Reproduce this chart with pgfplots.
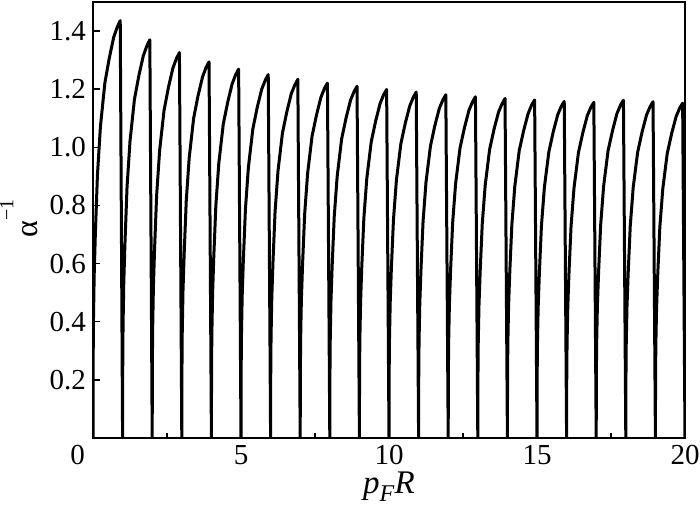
\documentclass[border=0pt]{standalone}
\usepackage{pgfplots}
\pgfplotsset{compat=1.18}
\usepackage{fontspec}
\setmainfont{Liberation Serif}
\begin{document}
\begin{tikzpicture}
\begin{axis}[
  scale only axis,
  width=296pt, height=218pt,
  xmin=0, xmax=20, ymin=0, ymax=1.5,
  xtick={0,5,10,15,20},
  xticklabels={\makebox[0pt][r]{0\hspace{4pt}},5,10,15,20},
  minor x tick num=1,
  ytick={0.2,0.4,0.6,0.8,1.0,1.2,1.4},
  yticklabels={0.2,0.4,0.6,0.8,1.0,1.2,1.4},
  tick align=inside,
  xtick pos=bottom, ytick pos=left,
  major tick length=3.5pt, minor tick length=2.5pt,
  tick style={black, line width=0.75pt},
  axis line style={line width=0.75pt},
  /pgf/number format/assume math mode=true,
  tick label style={font=\fontsize{14.5}{17}\selectfont},
  xlabel style={font=\fontsize{16.5}{19}\selectfont},
  ylabel style={font=\fontsize{16}{19}\selectfont},
  xlabel={\textit{p}\raisebox{-0.25em}{\fontsize{12}{14}\selectfont\textit{F}}\textit{R}},
  ylabel={α\raisebox{0.75em}{\fontsize{10}{12}\selectfont −1}},
  xlabel style={at={(axis description cs:0.5,0)}, anchor=center, yshift=-24.5pt},
  ylabel style={at={(axis description cs:-0.125,0.503)}, anchor=center},
]
\addplot[black, line width=1.5pt, line join=round] table {
x y
0 0
0.005 0.258
0.015 0.402
0.04 0.560
0.08 0.704
0.15 0.905
0.25 1.070
0.4 1.221
0.55 1.307
0.7 1.379
0.82 1.414
0.92 1.436
1 0
1.005 0.247
1.015 0.384
1.04 0.534
1.08 0.671
1.15 0.863
1.25 1.021
1.4 1.165
1.55 1.247
1.7 1.315
1.82 1.349
1.92 1.370
2 0
2.005 0.239
2.015 0.371
2.04 0.517
2.08 0.650
2.15 0.835
2.25 0.988
2.4 1.127
2.55 1.207
2.7 1.273
2.82 1.306
2.92 1.326
3 0
3.005 0.233
3.015 0.362
3.04 0.505
3.08 0.634
3.15 0.815
3.25 0.964
3.4 1.100
3.55 1.178
3.7 1.242
3.82 1.275
3.92 1.294
4 0
4.005 0.228
4.015 0.355
4.04 0.495
4.08 0.622
4.15 0.799
4.25 0.945
4.4 1.079
4.55 1.155
4.7 1.218
4.82 1.250
4.92 1.269
5 0
5.005 0.225
5.015 0.350
5.04 0.488
5.08 0.613
5.15 0.788
5.25 0.931
5.4 1.063
5.55 1.138
5.7 1.200
5.82 1.231
5.92 1.250
6 0
6.005 0.222
6.015 0.346
6.04 0.481
6.08 0.605
6.15 0.777
6.25 0.919
6.4 1.049
6.55 1.123
6.7 1.185
6.82 1.215
6.92 1.234
7 0
7.005 0.220
7.015 0.342
7.04 0.476
7.08 0.598
7.15 0.769
7.25 0.910
7.4 1.038
7.55 1.111
7.7 1.172
7.82 1.203
7.92 1.221
8 0
8.005 0.218
8.015 0.339
8.04 0.472
8.08 0.593
8.15 0.762
8.25 0.901
8.4 1.029
8.55 1.101
8.7 1.162
8.82 1.192
8.92 1.210
9 0
9.005 0.216
9.015 0.336
9.04 0.468
9.08 0.588
9.15 0.755
9.25 0.893
9.4 1.019
9.55 1.091
9.7 1.151
9.82 1.181
9.92 1.199
10 0
10.005 0.214
10.015 0.333
10.04 0.464
10.08 0.583
10.15 0.750
10.25 0.887
10.4 1.012
10.55 1.083
10.7 1.142
10.82 1.172
10.92 1.190
11 0
11.005 0.213
11.015 0.331
11.04 0.461
11.08 0.579
11.15 0.744
11.25 0.880
11.4 1.004
11.55 1.075
11.7 1.134
11.82 1.163
11.92 1.181
12 0
12.005 0.211
12.015 0.329
12.04 0.458
12.08 0.575
12.15 0.740
12.25 0.875
12.4 0.998
12.55 1.068
12.7 1.127
12.82 1.156
12.92 1.174
13 0
13.005 0.210
13.015 0.327
13.04 0.456
13.08 0.572
13.15 0.736
13.25 0.870
13.4 0.993
13.55 1.063
13.7 1.121
13.82 1.150
13.92 1.168
14 0
14.005 0.209
14.015 0.326
14.04 0.454
14.08 0.570
14.15 0.733
14.25 0.866
14.4 0.989
14.55 1.058
14.7 1.116
14.82 1.146
14.92 1.163
15 0
15.005 0.208
15.015 0.324
15.04 0.452
15.08 0.567
15.15 0.730
15.25 0.863
15.4 0.984
15.55 1.054
15.7 1.112
15.82 1.141
15.92 1.158
16 0
16.005 0.208
16.015 0.323
16.04 0.450
16.08 0.566
16.15 0.728
16.25 0.860
16.4 0.982
16.55 1.051
16.7 1.109
16.82 1.138
16.92 1.155
17 0
17.005 0.209
17.015 0.325
17.04 0.453
17.08 0.569
17.15 0.732
17.25 0.866
17.4 0.988
17.55 1.057
17.7 1.116
17.82 1.145
17.92 1.162
18 0
18.005 0.208
18.015 0.324
18.04 0.451
18.08 0.567
18.15 0.729
18.25 0.862
18.4 0.983
18.55 1.053
18.7 1.111
18.82 1.140
18.92 1.157
19 0
19.005 0.207
19.015 0.323
19.04 0.449
19.08 0.564
19.15 0.726
19.25 0.858
19.4 0.979
19.55 1.048
19.7 1.106
19.82 1.135
19.92 1.152
20 0
};
\coordinate (sw) at (rel axis cs:0,0);
\coordinate (ne) at (rel axis cs:1,1);
\end{axis}
\pgfresetboundingbox
\path[use as bounding box] ([xshift=-46.5pt,yshift=-34.5pt]sw) rectangle ([xshift=7.5pt,yshift=1pt]ne);
\end{tikzpicture}
\end{document}
